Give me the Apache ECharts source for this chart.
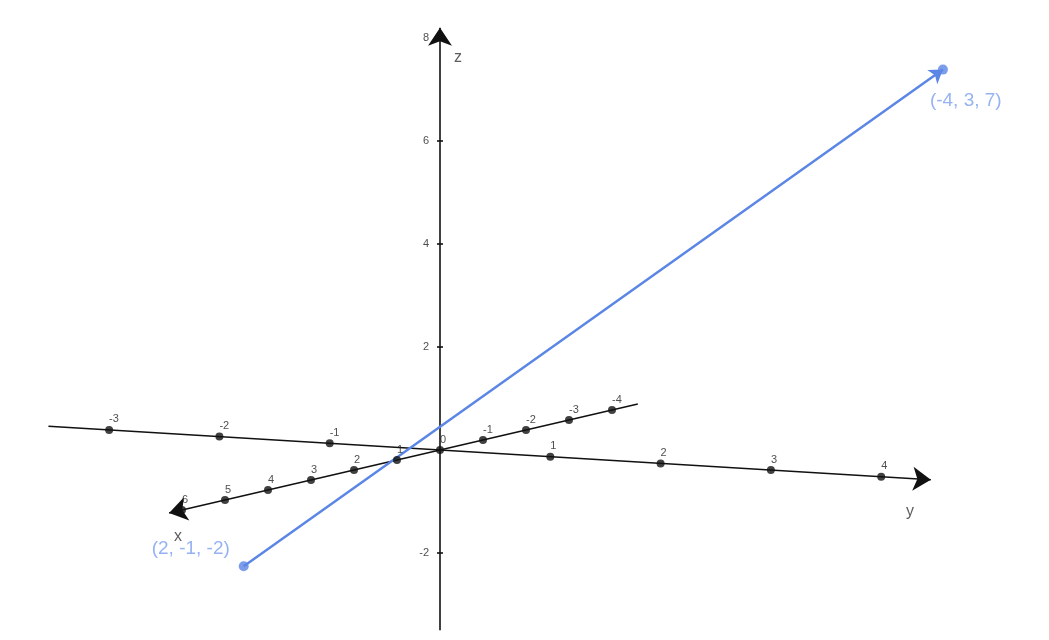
<!DOCTYPE html>
<html><head><meta charset="utf-8">
<script src="https://cdn.jsdelivr.net/npm/echarts@6/dist/echarts.min.js"></script>
<style>html,body{margin:0;padding:0;background:#fff}#c{width:1049px;height:640px}</style>
</head><body><div id="c"></div>
<script>
// 3D data
const xTicks = [-4,-3,-2,-1,1,2,3,4,5,6];
const yTicks = [-3,-2,-1,1,2,3,4];
const zTicks = [-2,2,4,6,8];
const xAxisRange = [6.3,-4.6];
const yAxisRange = [-3.55,4.45];
const zAxisRange = [-3.5,8.2];
const vecStart = [2,-1,-2];
const vecEnd = [-4,3,7];
const startLabel = '(2, -1, -2)';
const endLabel = '(-4, 3, 7)';

// projection (view setup)
const O=[440,450], EX=[-43,10], EY=[110.3,6.7], EZ=[0,-51.5];
function P(p){return [O[0]+p[0]*EX[0]+p[1]*EY[0]+p[2]*EZ[0], O[1]+p[0]*EX[1]+p[1]*EY[1]+p[2]*EZ[1]];}

const blue='#5b86e5', lblue='#7a9ff0';
const axisLine=(a,b)=>({coords:[P(a),P(b)]});
const fmt=p=>p.value[2];
const ch=echarts.init(document.getElementById('c'));
ch.setOption({
  animation:false,
  grid:{left:0,right:0,top:0,bottom:0},
  xAxis:{type:'value',min:0,max:1049,show:false},
  yAxis:{type:'value',min:0,max:640,inverse:true,show:false},
  series:[
    {type:'lines',coordinateSystem:'cartesian2d',symbol:['none','arrow'],symbolSize:[0,18],
     lineStyle:{color:'#111',width:1.6,opacity:1},
     data:[axisLine([xAxisRange[1],0,0],[xAxisRange[0],0,0]),
           axisLine([0,yAxisRange[0],0],[0,yAxisRange[1],0]),
           axisLine([0,0,zAxisRange[0]],[0,0,zAxisRange[1]])]},
    {type:'lines',coordinateSystem:'cartesian2d',symbol:['none','arrow'],symbolSize:[0,13],
     lineStyle:{color:blue,width:2.5,opacity:1},data:[{coords:[P(vecStart),P(vecEnd)]}]},
    {type:'scatter',symbolSize:8,itemStyle:{color:'#111'},
     label:{show:true,position:[4,-12],fontSize:11,color:'#222',fontFamily:'Arial',formatter:fmt},
     data:xTicks.map(t=>[...P([t,0,0]),t]).concat(yTicks.map(t=>[...P([0,t,0]),t])).concat([[...P([0,0,0]),'0']])},
    {type:'scatter',symbol:'rect',symbolSize:[6,2],itemStyle:{color:'#111'},
     label:{show:true,position:'left',distance:8,fontSize:11,color:'#222',fontFamily:'Arial',formatter:fmt},
     data:zTicks.map(t=>[...P([0,0,t]),t])},
    {type:'scatter',symbolSize:10,itemStyle:{color:blue},
     label:{show:true,fontSize:19,color:lblue,fontFamily:'Arial',formatter:fmt},
     data:[{value:[...P(vecStart),startLabel],label:{position:[-87,-22]}},
           {value:[...P(vecEnd),endLabel],label:{position:[-8,27]}}]},
    {type:'scatter',symbolSize:0,
     label:{show:true,fontSize:16,color:'#333',fontFamily:'Arial',formatter:fmt},
     data:[[178,537,'x'],[910,512,'y'],[458,58,'z']]}
  ]
});
</script></body></html>
